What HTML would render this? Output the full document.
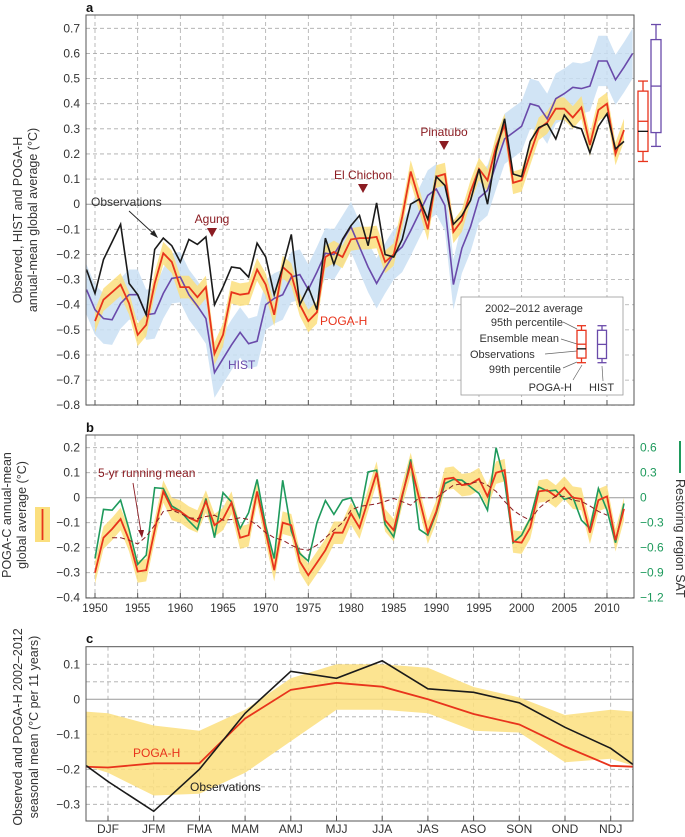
<!DOCTYPE html>
<html><head><meta charset="utf-8">
<style>
html,body{margin:0;padding:0;background:#fff;}
svg{display:block;font-family:"Liberation Sans",sans-serif;}
</style></head>
<body>
<svg id="chart" width="685" height="837" viewBox="0 0 685 837" xmlns="http://www.w3.org/2000/svg"></svg>
<script>
// ---- Panel a data ----
const obsStart = 1949;
const obsA = [-0.26,-0.355,-0.22,-0.15,-0.08,-0.315,-0.36,-0.44,-0.18,-0.135,-0.165,-0.23,-0.14,-0.16,-0.13,-0.40,-0.33,-0.25,-0.255,-0.29,-0.155,-0.21,-0.36,-0.25,-0.12,-0.40,-0.33,-0.42,-0.135,-0.24,-0.14,-0.085,-0.045,-0.165,0.005,-0.2,-0.21,-0.14,0.0,0.02,-0.06,0.11,0.075,-0.08,-0.045,0.015,0.14,0.0,0.21,0.34,0.12,0.11,0.25,0.305,0.32,0.26,0.355,0.31,0.30,0.205,0.31,0.36,0.22,0.25];
const pogaStart = 1950;
const pogaA = [-0.465,-0.38,-0.35,-0.32,-0.395,-0.52,-0.48,-0.315,-0.195,-0.23,-0.33,-0.33,-0.37,-0.33,-0.595,-0.52,-0.35,-0.36,-0.355,-0.26,-0.32,-0.44,-0.25,-0.28,-0.40,-0.465,-0.43,-0.21,-0.19,-0.21,-0.14,-0.135,-0.135,-0.13,-0.23,-0.2,-0.05,0.13,0.015,-0.1,0.11,0.12,-0.11,-0.065,0.05,0.14,0.095,0.23,0.315,0.085,0.095,0.2,0.30,0.325,0.38,0.38,0.345,0.385,0.235,0.375,0.40,0.2,0.295];
const histStart = 1949;
const histA = [-0.34,-0.42,-0.455,-0.46,-0.395,-0.36,-0.36,-0.44,-0.435,-0.355,-0.295,-0.29,-0.36,-0.405,-0.455,-0.67,-0.615,-0.56,-0.51,-0.555,-0.545,-0.40,-0.375,-0.36,-0.29,-0.28,-0.34,-0.27,-0.195,-0.2,-0.145,-0.09,-0.17,-0.25,-0.315,-0.255,-0.2,-0.17,-0.105,-0.035,0.035,0.06,-0.005,-0.32,-0.175,-0.09,0.025,0.055,0.16,0.26,0.285,0.31,0.40,0.39,0.34,0.42,0.44,0.465,0.46,0.47,0.57,0.57,0.495,0.545,0.60];
const histSpread = 0.1;
const pogaSpreadA = 0.045;
const ticksA = [0.7,0.6,0.5,0.4,0.3,0.2,0.1,0,-0.1,-0.2,-0.3,-0.4,-0.5,-0.6,-0.7,-0.8];
const yearTicks = [1950,1955,1960,1965,1970,1975,1980,1985,1990,1995,2000,2005,2010];
// box plots [low whisker, box low, mean, box high, high whisker, obs]
const boxPoga = [0.17,0.21,0.33,0.45,0.49,0.29];
const boxHist = [0.23,0.285,0.47,0.655,0.715];
// ---- Panel b data ----
const pogaC = [-0.30,-0.16,-0.125,-0.085,-0.17,-0.295,-0.29,-0.13,0.025,-0.045,-0.055,-0.08,-0.095,-0.015,-0.11,-0.085,-0.02,-0.16,-0.15,0.025,-0.135,-0.29,-0.1,-0.11,-0.255,-0.31,-0.26,-0.21,-0.14,-0.14,-0.063,-0.12,-0.01,0.10,-0.09,-0.13,0.01,0.135,-0.005,-0.14,-0.055,0.075,0.08,0.05,0.055,0.075,0.005,0.1,0.11,-0.175,-0.18,-0.12,0.025,0.03,0.005,0.04,0,-0.005,-0.14,-0.01,0.005,-0.17,-0.045];
const satR = [-0.73,-0.14,-0.15,-0.03,-0.38,-0.80,-0.69,0.12,0.11,-0.10,-0.16,-0.28,-0.38,-0.01,-0.48,0.06,-0.05,-0.37,-0.18,0.22,-0.34,-0.73,0.21,-0.40,-0.67,-0.76,-0.30,-0.035,-0.2,-0.03,0,-0.23,0.31,0.33,-0.32,-0.47,0.01,0.46,-0.38,-0.45,-0.18,0.17,0.22,0.21,0.13,0.05,-0.15,0.60,0.2,-0.54,-0.45,-0.25,0.13,0.08,0.09,-0.02,0.01,-0.27,-0.37,0.11,-0.15,-0.54,-0.07];
const runStart = 1952;
const runMean = [-0.16,-0.16,-0.17,-0.185,-0.155,-0.11,-0.055,-0.05,-0.063,-0.08,-0.083,-0.075,-0.07,-0.09,-0.087,-0.08,-0.087,-0.11,-0.14,-0.16,-0.17,-0.19,-0.205,-0.21,-0.19,-0.16,-0.13,-0.10,-0.05,-0.035,-0.03,-0.025,-0.015,-0.003,-0.016,-0.03,0,0,0,0.025,0.05,0.055,0.057,0.065,0.05,0.025,-0.015,-0.05,-0.073,-0.09,-0.043,-0.015,0.005,0.005,-0.01,-0.015,-0.033,-0.055,-0.07];
const pogaSpreadB = 0.045;
const ticksB = [0.2,0.1,0,-0.1,-0.2,-0.3,-0.4];
const ticksBR = [0.6,0.3,0,-0.3,-0.6,-0.9,-1.2];
// ---- Panel c data ----
const seasons = ["DJF","JFM","FMA","MAM","AMJ","MJJ","JJA","JAS","ASO","SON","OND","NDJ"];
const obsC = [-0.235,-0.32,-0.2,-0.04,0.08,0.06,0.11,0.03,0.02,-0.01,-0.08,-0.14];
const pogaCs = [-0.195,-0.183,-0.183,-0.055,0.027,0.047,0.036,0.0,-0.042,-0.072,-0.135,-0.19];
const bandHiC = [-0.04,-0.075,-0.09,-0.03,0.06,0.1,0.1,0.09,0.035,0.005,-0.045,-0.03];
const bandLoC = [-0.21,-0.275,-0.27,-0.21,-0.12,-0.03,-0.03,-0.04,-0.09,-0.095,-0.18,-0.17];
const ticksC = [0.1,0,-0.1,-0.2,-0.3];

const NS="http://www.w3.org/2000/svg";
const svg=document.getElementById('chart');
function mk(tag, attrs, name, parent){
  const el=document.createElementNS(NS,tag);
  for(const k in attrs) el.setAttribute(k,attrs[k]);
  
  
  (parent||svg).appendChild(el);
  return el;
}
function txt(x,y,s,name,opts){
  opts=opts||{};
  const t=mk('text',{x:x,y:y,'font-size':opts.size||12,fill:opts.fill||'#333','text-anchor':opts.anchor||'start'},name,opts.parent);
  if(opts.transform) t.setAttribute('transform',opts.transform);
  t.textContent=s; return t;
}
const X=yr=>95+(yr-1950)*8.533;
const YA=v=>204.2-v*251.3;
const YB=v=>497.7-v*250;
const YBR=r=>497.7-r*250/3;
const XC=i=>108+i*45.7;
const YC=v=>699.3-v*350;
function fmt(v){return v===0?'0':(v<0?'\u2212'+Math.abs(v).toFixed(1):v.toFixed(1));}
function linePts(arr,start,sx,sy){return arr.map((v,i)=>sx(start+i).toFixed(1)+','+sy(v).toFixed(1)).join(' ');}
function bandPts(arr,start,sx,sy,sp){
  const up=arr.map((v,i)=>sx(start+i).toFixed(1)+','+sy(v+sp).toFixed(1));
  const lo=arr.map((v,i)=>sx(start+i).toFixed(1)+','+sy(v-sp).toFixed(1)).reverse();
  return up.concat(lo).join(' ');
}
const defs=mk('defs',{},'defs');
const cpA=mk('clipPath',{id:'clipA'},'clip-a',defs); mk('rect',{x:86,y:15,width:548,height:390},'clip-a-rect',cpA);
const cpB=mk('clipPath',{id:'clipB'},'clip-b',defs); mk('rect',{x:86,y:435,width:548,height:163},'clip-b-rect',cpB);
const cpC=mk('clipPath',{id:'clipC'},'clip-c',defs); mk('rect',{x:86,y:646.7,width:547,height:174.3},'clip-c-rect',cpC);

function grid(x0,x1,y0,y1,xs,ys,name){
  const g=mk('g',{stroke:'#aaa','stroke-width':0.8,'stroke-dasharray':'4,3'},name);
  xs.forEach(x=>mk('line',{x1:x,x2:x,y1:y0,y2:y1},'v-gridline',g));
  ys.forEach(y=>mk('line',{x1:x0,x2:x1,y1:y,y2:y},'h-gridline',g));
}
// ===== Panel a =====
txt(86,12,'a','panel-a-label',{size:13,fill:'#111'}).setAttribute('font-weight','bold');
grid(86,634,15,405,yearTicks.map(X),ticksA.filter(v=>v!==0).map(YA),'panel-a-grid');
mk('line',{x1:86,x2:634,y1:YA(0),y2:YA(0),stroke:'#999','stroke-width':1},'panel-a-zero-line');
const gA=mk('g',{'clip-path':'url(#clipA)'},'panel-a-series');
mk('polygon',{points:bandPts(histA,histStart,X,YA,histSpread),fill:'#c9dff3',opacity:0.85},'hist-spread-band',gA);
mk('polygon',{points:bandPts(pogaA,pogaStart,X,YA,pogaSpreadA),fill:'#fbdf7e',opacity:0.85},'poga-h-spread-band',gA);
mk('polyline',{points:linePts(histA,histStart,X,YA),fill:'none',stroke:'#6a4aaa','stroke-width':1.6},'hist-line',gA);
mk('polyline',{points:linePts(pogaA,pogaStart,X,YA),fill:'none',stroke:'#e8341c','stroke-width':1.8},'poga-h-line',gA);
mk('polyline',{points:linePts(obsA,obsStart,X,YA),fill:'none',stroke:'#1a1a1a','stroke-width':1.6},'observations-line',gA);
mk('rect',{x:86,y:15,width:548,height:390,fill:'none',stroke:'#555','stroke-width':1},'panel-a-frame');
ticksA.forEach(v=>{txt(80,YA(v)+4,fmt(v),'y-tick-label-a',{anchor:'end',size:12});});
yearTicks.forEach(y=>{mk('line',{x1:X(y),x2:X(y),y1:405,y2:400,stroke:'#555'},'x-tick-a');});
txt(0,0,'Observed, HIST and POGA-H','y-axis-title-a-line1',{anchor:'middle',size:12.5,transform:'translate(22,220) rotate(-90)'});
txt(0,0,'annual-mean global average (\u00B0C)','y-axis-title-a-line2',{anchor:'middle',size:12.5,transform:'translate(37,220) rotate(-90)'});
// annotations
txt(91,206,'Observations','observations-annotation',{size:12});
mk('line',{x1:129,y1:211,x2:155,y2:235,stroke:'#222','stroke-width':0.9},'observations-arrow-line');
mk('polygon',{points:'158,238 150,234 154,230'},'observations-arrowhead').setAttribute('fill','#222');
const dred='#8b1c22';
txt(212,223,'Agung','agung-label',{size:12,fill:dred,anchor:'middle'});
mk('polygon',{points:'207,228 217,228 212,237',fill:dred},'agung-marker');
txt(363,179,'El Chichon','el-chichon-label',{size:12,fill:dred,anchor:'middle'});
mk('polygon',{points:'358,184 368,184 363,193',fill:dred},'el-chichon-marker');
txt(444,136,'Pinatubo','pinatubo-label',{size:12,fill:dred,anchor:'middle'});
mk('polygon',{points:'439,141 449,141 444,150',fill:dred},'pinatubo-marker');
txt(320,325,'POGA-H','poga-h-label',{size:12,fill:'#e8341c'});
txt(228,369,'HIST','hist-label',{size:12,fill:'#6a4aaa'});
// box plots
function box(cx,w,vals,col,sy,name,obs){
  const g=mk('g',{stroke:col,'stroke-width':1.3,fill:'none'},name);
  mk('line',{x1:cx,x2:cx,y1:sy(vals[0]),y2:sy(vals[1])},'lower-whisker',g);
  mk('line',{x1:cx,x2:cx,y1:sy(vals[3]),y2:sy(vals[4])},'upper-whisker',g);
  mk('line',{x1:cx-w/2,x2:cx+w/2,y1:sy(vals[0]),y2:sy(vals[0])},'whisker-cap-low',g);
  mk('line',{x1:cx-w/2,x2:cx+w/2,y1:sy(vals[4]),y2:sy(vals[4])},'whisker-cap-high',g);
  mk('rect',{x:cx-w/2,y:sy(vals[3]),width:w,height:sy(vals[1])-sy(vals[3])},'box',g);
  mk('line',{x1:cx-w/2,x2:cx+w/2,y1:sy(vals[2]),y2:sy(vals[2])},'ensemble-mean-mark',g);
  if(obs!==undefined) mk('line',{x1:cx-w/2,x2:cx+w/2,y1:sy(obs),y2:sy(obs),stroke:'#111'},'observations-mark',g);
}
box(643,10,boxPoga,'#e8341c',YA,'poga-h-boxplot',boxPoga[5]);
box(656,10,boxHist,'#6a4aaa',YA,'hist-boxplot');
// legend
const lg=mk('g',{},'boxplot-legend');
mk('rect',{x:461,y:297,width:162,height:98,fill:'#fff',stroke:'#999','stroke-width':0.8},'legend-frame',lg);
txt(534,312,'2002\u20132012 average','legend-title',{size:11,anchor:'middle',parent:lg});
txt(563,326,'95th percentile','legend-95th',{size:11,anchor:'end',parent:lg});
txt(559,342,'Ensemble mean','legend-ensemble-mean',{size:11,anchor:'end',parent:lg});
txt(470,358,'Observations','legend-observations',{size:11,parent:lg});
txt(561,373,'99th percentile','legend-99th',{size:11,anchor:'end',parent:lg});
txt(572,391,'POGA-H','legend-poga-h',{size:11,anchor:'end',parent:lg});
txt(589,391,'HIST','legend-hist',{size:11,parent:lg});
const lY=v=>325.7+(0.49-v)*(362.7-325.7)/(0.49-0.17);
box(581.5,9,boxPoga,'#e8341c',lY,'legend-poga-box',boxPoga[5]);
const lY2=v=>325.7+(0.715-v)*(362.7-325.7)/(0.715-0.23);
box(602,9,boxHist,'#6a4aaa',lY2,'legend-hist-box');
const ll=mk('g',{stroke:'#666','stroke-width':0.7},'legend-leaders',lg);
[[563,322,577,329],[561,339,577,344],[545,354,577,351],[563,368,577,362],[573,380,582,365],[603,381,602,366]].forEach(p=>mk('line',{x1:p[0],y1:p[1],x2:p[2],y2:p[3]},'leader-line',ll));

// ===== Panel b =====
txt(86,432,'b','panel-b-label',{size:13,fill:'#111'}).setAttribute('font-weight','bold');
grid(86,634,435,598,yearTicks.map(X),ticksB.filter(v=>v!==0).map(YB),'panel-b-grid');
mk('line',{x1:86,x2:634,y1:YB(0),y2:YB(0),stroke:'#999','stroke-width':1},'panel-b-zero-line');
const gB=mk('g',{'clip-path':'url(#clipB)'},'panel-b-series');
mk('polygon',{points:bandPts(pogaC,pogaStart,X,YB,pogaSpreadB),fill:'#fbdf7e',opacity:0.85},'poga-c-spread-band',gB);
mk('polyline',{points:linePts(satR,pogaStart,X,YBR),fill:'none',stroke:'#1e9a5c','stroke-width':1.6},'restoring-sat-line',gB);
mk('polyline',{points:linePts(pogaC,pogaStart,X,YB),fill:'none',stroke:'#e8341c','stroke-width':1.8},'poga-c-line',gB);
mk('polyline',{points:linePts(runMean,runStart,X,YB),fill:'none',stroke:'#8b1c22','stroke-width':1,'stroke-dasharray':'5,3'},'running-mean-line',gB);
mk('rect',{x:86,y:435,width:548,height:163,fill:'none',stroke:'#555','stroke-width':1},'panel-b-frame');
ticksB.forEach(v=>txt(80,YB(v)+4,fmt(v),'y-tick-label-b',{anchor:'end',size:12}));
ticksBR.forEach(v=>txt(640,YBR(v)+4,fmt(v),'y-right-tick-label-b',{size:12,fill:'#1e9a5c'}));
yearTicks.forEach(y=>{
  mk('line',{x1:X(y),x2:X(y),y1:598,y2:593,stroke:'#555'},'x-tick-b');
  txt(X(y),612,String(y),'x-tick-label-year',{anchor:'middle',size:11.5});
});
txt(98,477,'5-yr running mean','running-mean-annotation',{size:12,fill:dred});
mk('line',{x1:133,y1:483,x2:141,y2:532,stroke:dred,'stroke-width':0.9},'running-mean-arrow-line');
mk('polygon',{points:'142,538 138,530 144,530',fill:dred},'running-mean-arrowhead');
txt(0,0,'POGA-C annual-mean','y-axis-title-b-line1',{anchor:'middle',size:12.5,transform:'translate(11,515) rotate(-90)'});
txt(0,0,'global average (\u00B0C)','y-axis-title-b-line2',{anchor:'middle',size:12.5,transform:'translate(26,515) rotate(-90)'});
mk('rect',{x:35,y:507,width:15,height:35,fill:'#fbdf7e'},'poga-c-legend-band');
mk('line',{x1:42.5,x2:42.5,y1:509,y2:540,stroke:'#e8341c','stroke-width':1.8},'poga-c-legend-line');
mk('line',{x1:680,x2:680,y1:441,y2:473,stroke:'#1e9a5c','stroke-width':2},'sat-legend-line');
txt(0,0,'Restoring region SAT','y-right-axis-title-b',{size:12.5,transform:'translate(676,479) rotate(90)'});

// ===== Panel c =====
txt(86,643,'c','panel-c-label',{size:13,fill:'#111'}).setAttribute('font-weight','bold');
grid(86,633,646.7,821,seasons.map((s,i)=>XC(i)),[0.1,-0.1,-0.2,-0.3,0.05,-0.05,-0.15,-0.25].map(YC),'panel-c-grid');
mk('line',{x1:86,x2:633,y1:YC(0),y2:YC(0),stroke:'#999','stroke-width':1},'panel-c-zero-line');
function wrapPts(arr){
  const n=arr.length, e=(arr[0]+arr[n-1])/2;
  const p=[[XC(-0.5),e]].concat(arr.map((v,i)=>[XC(i),v])).concat([[XC(n-0.5),e]]);
  return p;
}
const gC=mk('g',{'clip-path':'url(#clipC)'},'panel-c-series');
const hiP=wrapPts(bandHiC), loP=wrapPts(bandLoC).reverse();
mk('polygon',{points:hiP.concat(loP).map(p=>p[0].toFixed(1)+','+YC(p[1]).toFixed(1)).join(' '),fill:'#fbdf7e',opacity:0.85},'poga-h-seasonal-band',gC);
mk('polyline',{points:wrapPts(pogaCs).map(p=>p[0].toFixed(1)+','+YC(p[1]).toFixed(1)).join(' '),fill:'none',stroke:'#e8341c','stroke-width':1.8},'poga-h-seasonal-line',gC);
mk('polyline',{points:wrapPts(obsC).map(p=>p[0].toFixed(1)+','+YC(p[1]).toFixed(1)).join(' '),fill:'none',stroke:'#1a1a1a','stroke-width':1.6},'observations-seasonal-line',gC);
mk('rect',{x:86,y:646.7,width:547,height:174.3,fill:'none',stroke:'#555','stroke-width':1},'panel-c-frame');
ticksC.forEach(v=>txt(80,YC(v)+4,fmt(v),'y-tick-label-c',{anchor:'end',size:12}));
seasons.forEach((s,i)=>{
  mk('line',{x1:XC(i),x2:XC(i),y1:821,y2:816,stroke:'#555'},'x-tick-c');
  txt(XC(i),833,s,'x-tick-label-season',{anchor:'middle',size:12});
});
txt(133,757,'POGA-H','poga-h-seasonal-label',{size:12,fill:'#e8341c'});
txt(190,791,'Observations','observations-seasonal-label',{size:12,fill:'#222'});
txt(0,0,'Observed and POGA-H 2002\u20132012','y-axis-title-c-line1',{anchor:'middle',size:12.5,transform:'translate(22,727) rotate(-90)'});
txt(0,0,'seasonal mean (\u00B0C per 11 years)','y-axis-title-c-line2',{anchor:'middle',size:12.5,transform:'translate(38,727) rotate(-90)'});
</script>
</body></html>
